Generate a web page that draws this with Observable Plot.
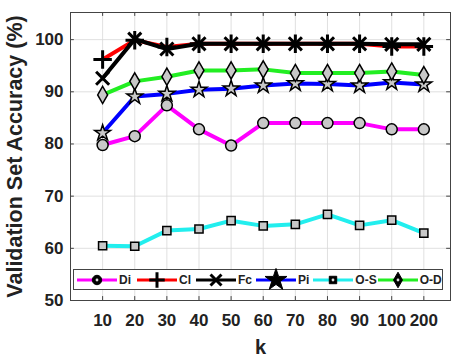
<!DOCTYPE html>
<html>
<head>
<meta charset="utf-8">
<script src="https://cdn.jsdelivr.net/npm/d3@7"></script>
<script src="https://cdn.jsdelivr.net/npm/@observablehq/plot@0.6"></script>
<style>
  html, body { margin: 0; padding: 0; background: #fff; }
  #wrap { position: relative; width: 474px; height: 361px; font-family: "Liberation Sans", Arial, sans-serif; }
  #legend { position: absolute; left: 73px; top: 269px; width: 368px; height: 19px; border: 1px solid #444; background: #fff;
            display: flex; align-items: center; font-weight: bold; font-size: 12px; color: #222; }
  .item { display: flex; align-items: center; }
  .item svg { display: block; overflow: visible; }
  .item span { margin-left: 2px; }
</style>
</head>
<body>
<div id="wrap"></div>
<script>
const kLabels = ["10", "20", "30", "40", "50", "60", "70", "80", "90", "100", "200"];
const di = [79.8, 81.5, 87.4, 82.8, 79.7, 84.0, 84.0, 84.0, 84.0, 82.8, 82.8];
const cl = [96.2, 99.9, 98.6, 99.2, 99.2, 99.2, 99.2, 99.2, 99.2, 98.7, 98.7];
const fc = [92.6, 100.1, 98.2, 99.2, 99.2, 99.2, 99.2, 99.2, 99.2, 99.1, 99.1];
const pi = [82.1, 89.1, 89.6, 90.4, 90.6, 91.2, 91.6, 91.5, 91.2, 91.8, 91.4];
const os = [60.5, 60.4, 63.4, 63.7, 65.3, 64.3, 64.6, 66.5, 64.4, 65.4, 62.9];
const od = [89.4, 92.0, 92.9, 94.1, 94.1, 94.3, 93.6, 93.6, 93.6, 93.9, 93.2];
const yTicks = [50, 60, 70, 80, 90, 100];

const series = [
  {name: "Di", color: "#ff00ff", symbol: "circle", r: 5.5, values: di},
  {name: "Cl", color: "#ff0000", symbol: "plus", r: 6, values: cl},
  {name: "Fc", color: "#000000", symbol: "times", r: 6, values: fc},
  {name: "Pi", color: "#0000ff", symbol: "star", r: 5, values: pi},
  {name: "O-S", color: "#22eeee", symbol: "square", r: 4.6, values: os},
  {name: "O-D", color: "#22ee22", symbol: "diamond", r: 5.2, values: od}
];

const idx = d3.range(kLabels.length);
const marks = [
  Plot.gridX(idx, {stroke: "#d8d8d8", strokeOpacity: 1, strokeWidth: 0.8}),
  Plot.gridY(yTicks, {stroke: "#d8d8d8", strokeOpacity: 1, strokeWidth: 0.8}),
  Plot.ruleX(idx, {x: d => d, y1: 50, y2: 50.75, stroke: "#444"}),
  Plot.ruleX(idx, {x: d => d, y1: 105.2, y2: 104.45, stroke: "#444"}),
  Plot.ruleY(yTicks, {y: d => d, x1: -1, x2: -0.88, stroke: "#444"}),
  Plot.ruleY(yTicks, {y: d => d, x1: 10.83, x2: 10.71, stroke: "#444"}),
  Plot.frame({stroke: "#444", strokeWidth: 1}),
  Plot.axisX(idx, {tickFormat: i => kLabels[i], tickSize: 0, tickPadding: 13, fontSize: 17, fontWeight: "bold", label: null}),
  Plot.axisY(yTicks, {tickSize: 0, tickPadding: 7, fontSize: 17, fontWeight: "bold", label: null})
];
for (const s of series) {
  const rows = s.values.map((v, i) => ({i, v}));
  marks.push(Plot.line(rows, {x: "i", y: "v", stroke: s.color, strokeWidth: 4}));
  if (s.symbol === "plus" || s.symbol === "times") {
    marks.push(Plot.dot(rows, {x: "i", y: "v", symbol: s.symbol, r: s.r, stroke: "#000", strokeWidth: 3, fill: "none"}));
  } else {
    marks.push(Plot.dot(rows, {x: "i", y: "v", symbol: s.symbol, r: s.r, fill: "#c8c8c8", stroke: "#000", strokeWidth: 1.5}));
  }
}
marks.push(Plot.text(["Validation Set Accuracy (%)"], {frameAnchor: "left", dx: -55, rotate: -90, fontSize: 21.5, fontWeight: "bold", fill: "#222", textAnchor: "middle", lineAnchor: "middle"}));
marks.push(Plot.text(["k"], {frameAnchor: "bottom", dy: 47, fontSize: 20, fontWeight: "bold", fill: "#222", lineAnchor: "middle"}));

const chart = Plot.plot({
  width: 474,
  height: 361,
  marginLeft: 70,
  marginRight: 24,
  marginTop: 12,
  marginBottom: 61,
  style: {fontFamily: "'Liberation Sans', Arial, sans-serif", color: "#222", background: "#fff", overflow: "visible"},
  x: {type: "linear", domain: [-1, 10.83]},
  y: {domain: [50, 105.2]},
  marks
});
const wrap = document.getElementById("wrap");
wrap.appendChild(chart);

// Legend
const legend = document.createElement("div");
legend.id = "legend";
wrap.appendChild(legend);
const legendSymbols = {circle: d3.symbolCircle, plus: d3.symbolPlus, times: d3.symbolTimes, star: d3.symbolStar, square: d3.symbolSquare, diamond: d3.symbolDiamond};
const legendSizes = {circle: 70, plus: 80, times: 80, star: 150, square: 55, diamond: 70};
const gaps = [3, 6, 5, 4, 4, 1];
series.forEach((s, k) => {
  const item = document.createElement("div");
  item.className = "item";
  item.style.marginLeft = gaps[k] + "px";
  const svg = d3.create("svg").attr("width", 40).attr("height", 16);
  svg.append("line").attr("x1", 0).attr("x2", 40).attr("y1", 8).attr("y2", 8).attr("stroke", s.color).attr("stroke-width", 3);
  const stroked = s.symbol === "plus" || s.symbol === "times";
  svg.append("path")
    .attr("transform", "translate(20,8)")
    .attr("d", d3.symbol(legendSymbols[s.symbol], legendSizes[s.symbol])())
    .attr("fill", stroked ? "none" : "#000")
    .attr("stroke", "#000")
    .attr("stroke-width", stroked ? 3 : 1);
  if (s.symbol === "circle" || s.symbol === "square" || s.symbol === "diamond") {
    svg.append("circle").attr("cx", 20).attr("cy", 8).attr("r", 1.4).attr("fill", "#ddd");
  }
  item.appendChild(svg.node());
  const t = document.createElement("span");
  t.textContent = s.name;
  item.appendChild(t);
  legend.appendChild(item);
});
</script>
</body>
</html>
